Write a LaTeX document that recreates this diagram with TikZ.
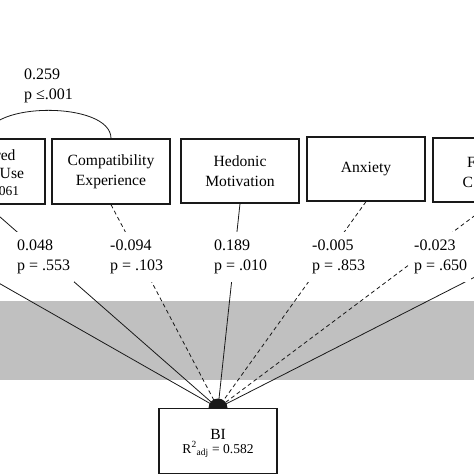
\documentclass[tikz,border=0pt]{standalone}
\usepackage{fontspec}
\setmainfont{Liberation Serif}
\newcommand\bxfont{\fontsize{15.6}{20}\selectfont}
\newcommand\lbfont{\fontsize{16}{20}\selectfont}
\newcommand\smfont{\fontsize{13.5}{16}\selectfont}
\definecolor{bandgray}{RGB}{192,192,192}
\definecolor{ink}{RGB}{25,25,25}
\tikzset{
  box/.style={draw=ink, line width=1.3pt, fill=white, minimum width=118pt,
    minimum height=64pt, inner sep=0pt, align=center, font=\bxfont},
  lab/.style={fill=white, inner xsep=4pt, inner ysep=8pt, align=left,
    anchor=west, font=\lbfont},
  frag/.style={inner sep=0pt, font=\bxfont},
  conn/.style={draw=ink, line width=0.8pt},
  dconn/.style={conn, dash pattern=on 4pt off 3pt},
}
\begin{document}
\begin{tikzpicture}[x=1pt,y=-1pt]
\useasboundingbox (0,0) rectangle (474,474);
\clip (0,0) rectangle (474,474);
\fill[bandgray] (0,301) rectangle (474,380);
% boxes
\node[box, minimum height=65pt] (b1) at (-14,171.5) {};
\node[box, minimum height=65pt] (b2) at (111,171.5) {Compatibility\\Experience};
\node[box] (b3) at (240,171) {Hedonic\\Motivation};
\node[box] (b4) at (366,169) {Anxiety};
\node[box] (b5) at (492,170) {};
\coordinate (b0) at (-140,204);
\coordinate (b6) at (618,204);
\coordinate (hub) at (218,408);
% visible text fragments of the cut boxes
\node[frag, anchor=base east] (t1a) at (15.7,160.5) {red};
\node[frag, anchor=base east] (t1b) at (24.2,178.5) {Use};
\node[frag, anchor=base east, font=\smfont] (t1c) at (19.3,195.6) {061};
\node[frag, anchor=base west] (t5a) at (467,167.5) {F};
\node[frag, anchor=base west] (t5b) at (462.5,187.5) {C};
% connectors
\draw[conn] (b0) -- (hub);
\draw[conn] (b1.south) -- (hub);
\draw[dconn] (b2.south) -- (hub);
\draw[conn] (b3.south) -- (hub);
\draw[dconn] (b4.south) -- (hub);
\draw[dconn] (b5.south) -- (hub);
\draw[conn] (b6) -- (hub);
\draw[conn] (b2.north) .. controls (111,101) and (-14,101) .. (b1.north);
\fill[ink] (hub) circle (9.5);
% outcome box
\node[box, minimum height=65pt] (bi) at (218,441) {};
\node[frag, font={\fontsize{15.5}{17}\selectfont}, anchor=base] (bit) at (218,439) {BI};
\node[frag, font=\smfont, anchor=base] (bir) at (218,453) {R\textsuperscript{2}\textsubscript{adj} = 0.582};
% labels
\node[lab, fill=none, inner ysep=0pt] (l0) at (20,86) {0.259\\p ≤.001};
\node[lab] (l1) at (13,257) {0.048\\p = .553};
\node[lab] (l2) at (106,257) {-0.094\\p = .103};
\node[lab] (l3) at (210,257) {0.189\\p = .010};
\node[lab] (l4) at (308,257) {-0.005\\p = .853};
\node[lab] (l5) at (410,257) {-0.023\\p = .650};
\end{tikzpicture}
\end{document}
